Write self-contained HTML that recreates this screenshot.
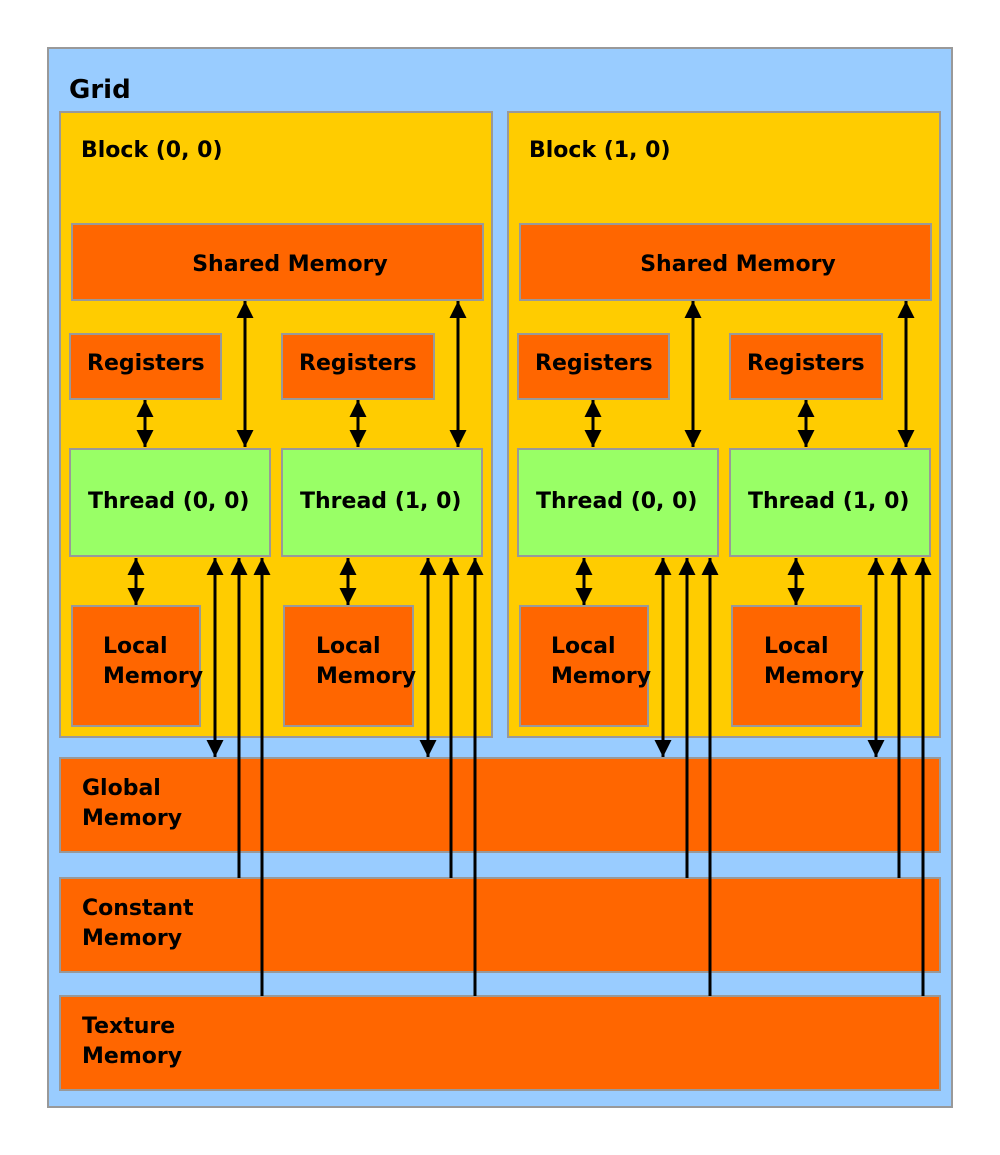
<!DOCTYPE html>
<html><head><meta charset="utf-8"><style>
html,body{margin:0;padding:0;background:#fff;}
svg{display:block;}
text{font-family:"DejaVu Sans","Liberation Sans",sans-serif;font-weight:bold;fill:#000;}
</style></head><body>
<svg width="1000" height="1155" viewBox="0 0 1000 1155" xmlns="http://www.w3.org/2000/svg">
<defs>
<marker id="a" markerUnits="userSpaceOnUse" markerWidth="18" markerHeight="18" refX="17" refY="9" orient="auto-start-reverse" viewBox="0 0 18 18">
<path d="M0,0.5 L17,9 L0,17.5 z" fill="#000"/>
</marker>
</defs>
<rect x="48" y="48" width="904" height="1059" fill="#99ccff" stroke="#999" stroke-width="2"/>
<text x="69" y="98" font-size="26">Grid</text>

<g id="blk">
<rect x="60" y="112" width="432" height="625" fill="#ffcc00" stroke="#999" stroke-width="2"/>
<text x="81" y="157" font-size="22">Block (0, 0)</text>
<rect x="72" y="224" width="411" height="76" fill="#ff6600" stroke="#999" stroke-width="2"/>
<text x="290" y="271" font-size="22" text-anchor="middle">Shared Memory</text>
<rect x="70" y="334" width="151" height="65" fill="#ff6600" stroke="#999" stroke-width="2"/>
<text x="87" y="370" font-size="22">Registers</text>
<rect x="282" y="334" width="152" height="65" fill="#ff6600" stroke="#999" stroke-width="2"/>
<text x="299" y="370" font-size="22">Registers</text>
<rect x="70" y="449" width="200" height="107" fill="#99ff66" stroke="#999" stroke-width="2"/>
<text x="88" y="508" font-size="22">Thread (0, 0)</text>
<rect x="282" y="449" width="200" height="107" fill="#99ff66" stroke="#999" stroke-width="2"/>
<text x="300" y="508" font-size="22">Thread (1, 0)</text>
<rect x="72" y="606" width="128" height="120" fill="#ff6600" stroke="#999" stroke-width="2"/>
<text x="103" y="653" font-size="22">Local</text>
<text x="103" y="683" font-size="22">Memory</text>
<rect x="284" y="606" width="129" height="120" fill="#ff6600" stroke="#999" stroke-width="2"/>
<text x="316" y="653" font-size="22">Local</text>
<text x="316" y="683" font-size="22">Memory</text>
</g>
<g transform="translate(448,0)">
<rect x="60" y="112" width="432" height="625" fill="#ffcc00" stroke="#999" stroke-width="2"/>
<text x="81" y="157" font-size="22">Block (1, 0)</text>
<rect x="72" y="224" width="411" height="76" fill="#ff6600" stroke="#999" stroke-width="2"/>
<text x="290" y="271" font-size="22" text-anchor="middle">Shared Memory</text>
<rect x="70" y="334" width="151" height="65" fill="#ff6600" stroke="#999" stroke-width="2"/>
<text x="87" y="370" font-size="22">Registers</text>
<rect x="282" y="334" width="152" height="65" fill="#ff6600" stroke="#999" stroke-width="2"/>
<text x="299" y="370" font-size="22">Registers</text>
<rect x="70" y="449" width="200" height="107" fill="#99ff66" stroke="#999" stroke-width="2"/>
<text x="88" y="508" font-size="22">Thread (0, 0)</text>
<rect x="282" y="449" width="200" height="107" fill="#99ff66" stroke="#999" stroke-width="2"/>
<text x="300" y="508" font-size="22">Thread (1, 0)</text>
<rect x="72" y="606" width="128" height="120" fill="#ff6600" stroke="#999" stroke-width="2"/>
<text x="103" y="653" font-size="22">Local</text>
<text x="103" y="683" font-size="22">Memory</text>
<rect x="284" y="606" width="129" height="120" fill="#ff6600" stroke="#999" stroke-width="2"/>
<text x="316" y="653" font-size="22">Local</text>
<text x="316" y="683" font-size="22">Memory</text>
</g>

<rect x="60" y="758" width="880" height="94" fill="#ff6600" stroke="#999" stroke-width="2"/>
<text x="82" y="795" font-size="22">Global</text>
<text x="82" y="825" font-size="22">Memory</text>
<rect x="60" y="878" width="880" height="94" fill="#ff6600" stroke="#999" stroke-width="2"/>
<text x="82" y="915" font-size="22">Constant</text>
<text x="82" y="945" font-size="22">Memory</text>
<rect x="60" y="996" width="880" height="94" fill="#ff6600" stroke="#999" stroke-width="2"/>
<text x="82" y="1033" font-size="22">Texture</text>
<text x="82" y="1063" font-size="22">Memory</text>

<g stroke="#000" stroke-width="3" fill="none">
<g id="arr">
<line x1="145" y1="400" x2="145" y2="447" marker-start="url(#a)" marker-end="url(#a)"/>
<line x1="245" y1="301" x2="245" y2="447" marker-start="url(#a)" marker-end="url(#a)"/>
<line x1="358" y1="400" x2="358" y2="447" marker-start="url(#a)" marker-end="url(#a)"/>
<line x1="458" y1="301" x2="458" y2="447" marker-start="url(#a)" marker-end="url(#a)"/>
<line x1="136" y1="558" x2="136" y2="605" marker-start="url(#a)" marker-end="url(#a)"/>
<line x1="348" y1="558" x2="348" y2="605" marker-start="url(#a)" marker-end="url(#a)"/>
<line x1="215" y1="558" x2="215" y2="757" marker-start="url(#a)" marker-end="url(#a)"/>
<line x1="428" y1="558" x2="428" y2="757" marker-start="url(#a)" marker-end="url(#a)"/>
<line x1="239" y1="878" x2="239" y2="558" marker-end="url(#a)"/>
<line x1="451" y1="878" x2="451" y2="558" marker-end="url(#a)"/>
<line x1="262" y1="996" x2="262" y2="558" marker-end="url(#a)"/>
<line x1="475" y1="996" x2="475" y2="558" marker-end="url(#a)"/>
</g>
<g transform="translate(448,0)">
<line x1="145" y1="400" x2="145" y2="447" marker-start="url(#a)" marker-end="url(#a)"/>
<line x1="245" y1="301" x2="245" y2="447" marker-start="url(#a)" marker-end="url(#a)"/>
<line x1="358" y1="400" x2="358" y2="447" marker-start="url(#a)" marker-end="url(#a)"/>
<line x1="458" y1="301" x2="458" y2="447" marker-start="url(#a)" marker-end="url(#a)"/>
<line x1="136" y1="558" x2="136" y2="605" marker-start="url(#a)" marker-end="url(#a)"/>
<line x1="348" y1="558" x2="348" y2="605" marker-start="url(#a)" marker-end="url(#a)"/>
<line x1="215" y1="558" x2="215" y2="757" marker-start="url(#a)" marker-end="url(#a)"/>
<line x1="428" y1="558" x2="428" y2="757" marker-start="url(#a)" marker-end="url(#a)"/>
<line x1="239" y1="878" x2="239" y2="558" marker-end="url(#a)"/>
<line x1="451" y1="878" x2="451" y2="558" marker-end="url(#a)"/>
<line x1="262" y1="996" x2="262" y2="558" marker-end="url(#a)"/>
<line x1="475" y1="996" x2="475" y2="558" marker-end="url(#a)"/>
</g>
</g>
</svg>
</body></html>
